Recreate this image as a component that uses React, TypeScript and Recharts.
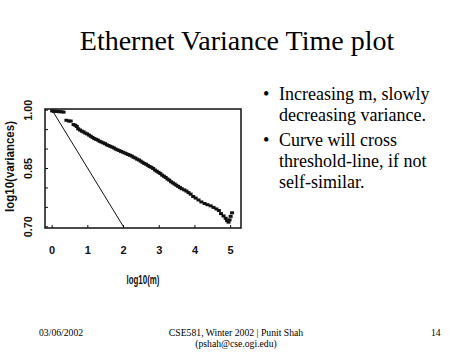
import React from 'react';
import { ScatterChart, Scatter, XAxis, YAxis, ReferenceArea, ReferenceLine, Label } from 'recharts';

// log10(m) readings
const logM = [
  0.0, 0.05, 0.1, 0.15, 0.2, 0.26, 0.32,
  0.4, 0.47, 0.52, 0.6, 0.65, 0.69,
  0.73, 0.78, 0.83, 0.88, 0.93, 0.98, 1.03, 1.08, 1.13, 1.18, 1.23, 1.28, 1.33, 1.38, 1.43, 1.48,
  1.53, 1.58, 1.63, 1.68, 1.73, 1.78, 1.83, 1.88, 1.93, 1.98, 2.03, 2.08, 2.13, 2.18, 2.23, 2.28,
  2.33, 2.38, 2.43, 2.48, 2.53, 2.58, 2.63, 2.68, 2.73, 2.78, 2.83, 2.88, 2.93, 2.98, 3.03, 3.08,
  3.13, 3.18, 3.23, 3.28, 3.33, 3.38, 3.43, 3.48, 3.53, 3.58, 3.63,
  3.7, 3.76, 3.82, 3.88, 3.95, 4.02, 4.1, 4.18, 4.27, 4.35, 4.44, 4.52, 4.6, 4.67,
  4.73, 4.8, 4.86, 4.9, 4.94, 4.97, 5.0, 5.04,
];
// log10(variances) readings
const logVar = [
  0.998, 0.997, 0.997, 0.997, 0.996, 0.996, 0.995,
  0.974, 0.972, 0.972, 0.963, 0.961, 0.958,
  0.952, 0.949, 0.946, 0.944, 0.941, 0.939, 0.936, 0.933, 0.93, 0.927, 0.925, 0.923, 0.92, 0.918, 0.916, 0.914,
  0.911, 0.909, 0.907, 0.905, 0.903, 0.9, 0.898, 0.896, 0.894, 0.892, 0.89, 0.888, 0.886, 0.884, 0.882, 0.879,
  0.877, 0.874, 0.872, 0.869, 0.866, 0.863, 0.861, 0.858, 0.855, 0.853, 0.85, 0.846, 0.843, 0.84, 0.837, 0.833,
  0.83, 0.827, 0.823, 0.82, 0.816, 0.813, 0.81, 0.807, 0.804, 0.801, 0.798,
  0.795, 0.792, 0.788, 0.784, 0.778, 0.774, 0.769, 0.764, 0.76, 0.757, 0.754, 0.75, 0.746, 0.742,
  0.734, 0.728, 0.722, 0.716, 0.712, 0.718, 0.727, 0.736,
];

// threshold line (slope -1 reference)
const refLineX = [0, 2];
const refLineY = [1.0, 0.7];

const xTicks = [0, 1, 2, 3, 4, 5];
const yTicks = [0.7, 0.75, 0.8, 0.85, 0.9, 0.95, 1.0];
const yLabelled = [0.7, 0.85, 1.0];

const points = logM.map((x, i) => ({ x, y: logVar[i] }));

const ink = '#111';
const axisFont = '"Liberation Sans", Arial, sans-serif';
const serif = '"Liberation Serif", "Times New Roman", serif';

const Marker = (props: any) => {
  const { cx, cy } = props;
  if (cx == null || cy == null) return null;
  return <rect x={cx - 2} y={cy - 1.5} width={4} height={3} fill={ink} />;
};

const XTick = (props: any) => {
  const { x, y, payload } = props;
  return (
    <g>
      <line x1={x} x2={x} y1={y} y2={y - 3} stroke={ink} strokeWidth={1} />
      <text x={x} y={y + 26} textAnchor="middle" fontSize={11} fontWeight="bold" fontFamily={axisFont} fill={ink}>
        {payload.value}
      </text>
    </g>
  );
};

const YTick = (props: any) => {
  const { x, y, payload } = props;
  const show = yLabelled.some(v => Math.abs(v - payload.value) < 1e-6);
  const lx = x - 13;
  return (
    <g>
      <line x1={x} x2={x + 3} y1={y} y2={y} stroke={ink} strokeWidth={1} />
      {show && (
        <text
          x={lx}
          y={y}
          transform={`rotate(-90 ${lx} ${y})`}
          textAnchor="middle"
          fontSize={11}
          fontWeight="bold"
          fontFamily={axisFont}
          fill={ink}
          textLength={21}
          lengthAdjust="spacingAndGlyphs"
        >
          {payload.value.toFixed(2)}
        </text>
      )}
    </g>
  );
};

const XTitle = (props: any) => {
  const { viewBox } = props;
  const cx = viewBox.x + viewBox.width / 2;
  return (
    <text x={cx} y={viewBox.y + 56} textAnchor="middle" fontSize={12} fontWeight="bold" fontFamily={axisFont} fill={ink} textLength={33} lengthAdjust="spacingAndGlyphs">
      log10(m)
    </text>
  );
};

const YTitle = (props: any) => {
  const { viewBox } = props;
  const tx = 14;
  const ty = viewBox.y + viewBox.height / 2 - 2;
  return (
    <text x={tx} y={ty} transform={`rotate(-90 ${tx} ${ty})`} textAnchor="middle" fontSize={12} fontWeight="bold" fontFamily={axisFont} fill={ink} textLength={91} lengthAdjust="spacingAndGlyphs">
      log10(variances)
    </text>
  );
};

export default function App() {
  return (
    <div style={{ position: 'absolute', left: 0, top: 0, width: 474, height: 355, background: '#fff', overflow: 'hidden' }}>
      <svg width={474} height={355} style={{ position: 'absolute', left: 0, top: 0 }}>
        <text x={237} y={50} textAnchor="middle" fontSize={28} fontFamily={serif} fill="#000">Ethernet Variance Time plot</text>
        <g fontSize={18} fontFamily={serif} fill="#000">
          <text x={263} y={100}>•</text>
          <text x={279} y={100}>Increasing m, slowly</text>
          <text x={279} y={121}>decreasing variance.</text>
          <text x={263} y={146}>•</text>
          <text x={279} y={146}>Curve will cross</text>
          <text x={279} y={167}>threshold-line, if not</text>
          <text x={279} y={188}>self-similar.</text>
        </g>
        <g fontSize={9.7} fontFamily={serif} fill="#000">
          <text x={39} y={336}>03/06/2002</text>
          <text x={236} y={336} textAnchor="middle">CSE581, Winter 2002 | Punit Shah</text>
          <text x={236} y={346.5} textAnchor="middle">(pshah@cse.ogi.edu)</text>
          <text x={431} y={336}>14</text>
        </g>
      </svg>
      <div style={{ position: 'absolute', left: 0, top: 0 }}>
        <ScatterChart width={250} height={300} margin={{ top: 109, right: 9, bottom: 12, left: 0 }}>
          <XAxis
            type="number"
            dataKey="x"
            domain={[-0.2, 5.29]}
            ticks={xTicks}
            interval={0}
            allowDataOverflow
            axisLine={false}
            tickLine={false}
            tickSize={0}
            tickMargin={0}
            height={60}
            tick={<XTick />}
          >
            <Label content={<XTitle />} />
          </XAxis>
          <YAxis
            type="number"
            dataKey="y"
            domain={[0.697, 1.003]}
            ticks={yTicks}
            interval={0}
            allowDataOverflow
            axisLine={false}
            tickLine={false}
            tickSize={0}
            tickMargin={0}
            width={45}
            tick={<YTick />}
          >
            <Label content={<YTitle />} />
          </YAxis>
          <ReferenceArea x1={-0.2} x2={5.29} y1={0.697} y2={1.003} fill="none" stroke={ink} strokeWidth={1.5} />
          <ReferenceLine
            segment={[{ x: refLineX[0], y: refLineY[0] }, { x: refLineX[1], y: refLineY[1] }]}
            stroke={ink}
            strokeWidth={1}
          />
          <Scatter data={points} shape={<Marker />} isAnimationActive={false} />
        </ScatterChart>
      </div>
    </div>
  );
}
